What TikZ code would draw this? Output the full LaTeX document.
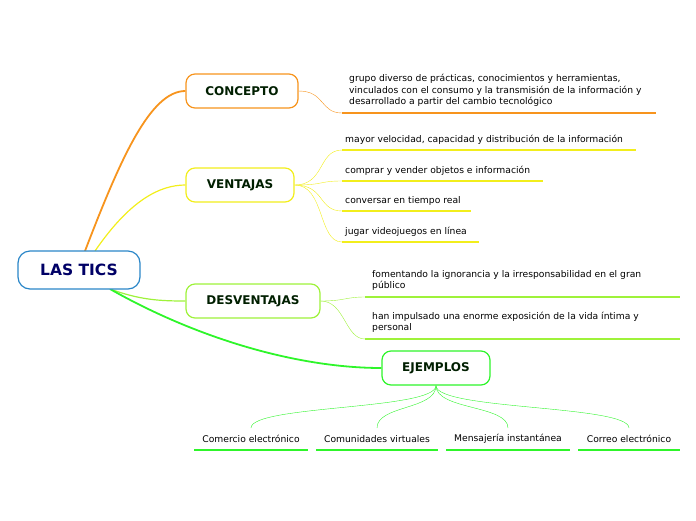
\documentclass[tikz,border=0pt]{standalone}
\usepackage{fontspec}
\setmainfont{DejaVu Sans}
\begin{document}
\begin{tikzpicture}[x=1pt,y=-1pt,
 box/.style={draw,rounded corners=9pt,line width=1.2pt,fill=white,font=\bfseries\fontsize{12}{14}\selectfont,text=black!70!green!40!black,minimum height=34pt},
 leaf/.style={font=\fontsize{9.2}{11.5}\selectfont,align=left,anchor=south west,inner sep=1pt},
 ul/.style={line width=1.6pt}]
\useasboundingbox (0,0) rectangle (696,520);
\definecolor{cO}{HTML}{F7941D}\definecolor{cY}{HTML}{F2EE1C}\definecolor{cD}{HTML}{9EF23A}\definecolor{cG}{HTML}{2EF52A}\definecolor{cB}{HTML}{2A86C8}
\coordinate (r1) at (85,251);\coordinate (r2) at (95,251);\coordinate (r3) at (110,289);
\node[box,draw=cO,minimum width=112pt] (con) at (242,91) {CONCEPTO};
\node[box,draw=cY,minimum width=108pt] (ven) at (240,185) {VENTAJAS};
\node[box,draw=cD,minimum width=134pt] (des) at (253,301) {DESVENTAJAS};
\node[box,draw=cG,minimum width=108pt] (eje) at (436,368) {EJEMPLOS};
\draw[cO,line width=1.8pt] (r1) .. controls (120,160) and (150,91) .. (con.west);
\draw[cY,line width=1.2pt] (r2) .. controls (130,200) and (160,185) .. (ven.west);
\draw[cD,line width=1.2pt] (r3) .. controls (140,300) and (160,301) .. (des.west);
\draw[cG,line width=1.8pt] (r3) .. controls (200,340) and (300,368) .. (eje.west);
\node[box,draw=cB,text=blue!40!black,minimum width=122pt,minimum height=38pt,rounded corners=12pt,font=\bfseries\fontsize{15.5}{18}\selectfont] (root) at (79,270) {LAS TICS};
\coordinate (c1a) at (342,113);\coordinate (c1b) at (656,113);
\draw[cO,ul] (c1a)--(c1b);
\node[leaf] at (348,108) {grupo diverso de prácticas, conocimientos y herramientas,\\vinculados con el consumo y la transmisión de la información y\\desarrollado a partir del cambio tecnológico};
\draw[cO] (con.east) .. controls (325,91) and (320,113) .. (c1a);
\foreach \y/\e/\t in {150/636/{mayor velocidad, capacidad y distribución de la información},181/543/{comprar y vender objetos e información},211/471/{conversar en tiempo real},242/479/{jugar videojuegos en línea}}{
 \coordinate (va) at (342,\y);\coordinate (vb) at (\e,\y);
 \draw[cY,ul] (va)--(vb);
 \node[leaf] at (344,\y-4) {\t};
 \draw[cY] (ven.east) .. controls (325,185) and (318,\y) .. (va);
}
\foreach \y/\t in {297/{fomentando la ignorancia y la irresponsabilidad en el gran\\público},339/{han impulsado una enorme exposición de la vida íntima y\\personal}}{
 \coordinate (da) at (365,\y);\coordinate (db) at (680,\y);
 \draw[cD,ul] (da)--(db);
 \node[leaf] at (371,\y-5) {\t};
 \draw[cD] (des.east) .. controls (345,301) and (345,\y) .. (da);
}
\foreach \a/\b/\t in {194/308/{Comercio electrónico},316/438/{Comunidades virtuales},446/570/{Mensajería instantánea},578/680/{Correo electrónico}}{
 \coordinate (ea) at (\a,450);\coordinate (eb) at (\b,450);
 \coordinate (et) at ({(\a+\b)/2},428);
 \draw[cG,ul] (ea)--(eb);
 \node[font=\fontsize{9.2}{11}\selectfont,inner sep=1pt] at ({(\a+\b)/2},439) {\t};
 \draw[cG] (eje.south) .. controls (436,410) and ({(\a+\b)/2},405) .. (et);
}
\end{tikzpicture}
\end{document}
